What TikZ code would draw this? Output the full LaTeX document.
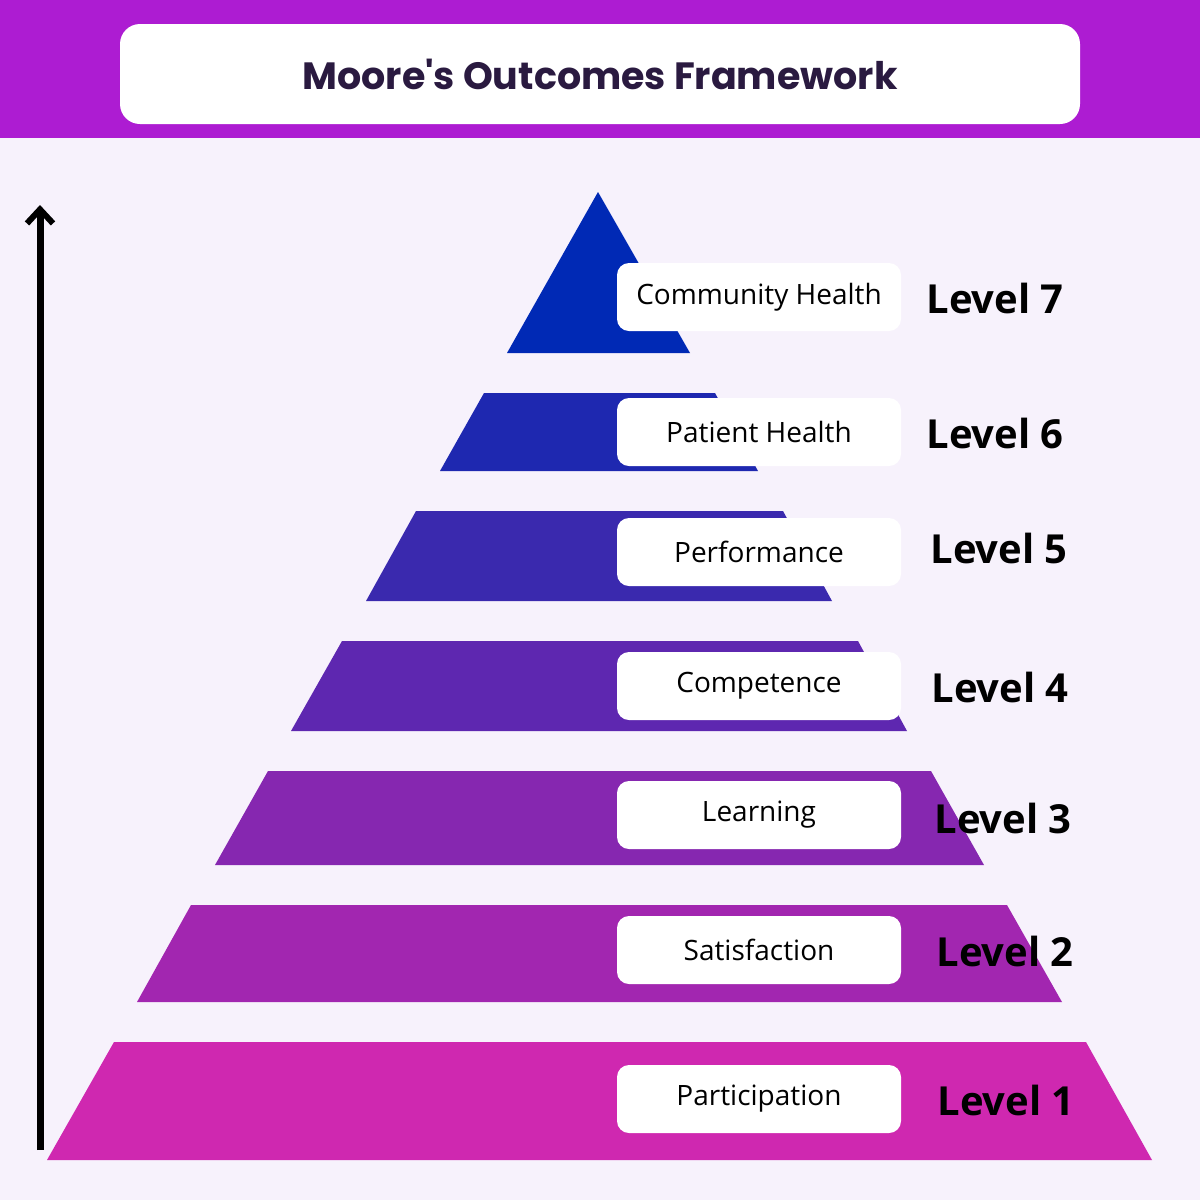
\documentclass[tikz,border=0pt]{standalone}
\usepackage{fontspec}
\setmainfont{Open Sans}
\newfontfamily\titlefont{Poppins}
\usetikzlibrary{arrows.meta}
\definecolor{hdr}{HTML}{AD1CD2}
\definecolor{bg}{HTML}{F7F2FC}
\definecolor{ttl}{HTML}{2A1A40}
\definecolor{cA}{HTML}{0029B5}
\definecolor{cB}{HTML}{1E28B0}
\definecolor{cC}{HTML}{3A29AE}
\definecolor{cD}{HTML}{5E27B0}
\definecolor{cE}{HTML}{8627B0}
\definecolor{cF}{HTML}{A226B0}
\definecolor{cG}{HTML}{CF28B0}
\tikzset{
 lab/.style={fill=white,rounded corners=6pt,minimum width=142pt,minimum height=34pt,inner sep=0pt,font=\fontsize{14}{16}\selectfont,text=black},
 lvl/.style={anchor=west,inner sep=0pt,font=\fontsize{20}{22}\selectfont\bfseries,text=black}
}
\begin{document}
\begin{tikzpicture}[x=0.5pt,y=-0.5pt]
\useasboundingbox (0,0) rectangle (1200,1200);
\fill[bg] (0,0) rectangle (1200,1200);
\fill[hdr] (0,0) rectangle (1200,138);
\node[fill=white,rounded corners=10pt,minimum width=480pt,minimum height=50pt,inner sep=0pt,text=ttl,font=\titlefont\fontsize{19}{22}\selectfont\bfseries] (title) at (600,74) {Moore's Outcomes Framework};
\fill[cA] (598,192) -- (690,353) -- (507,353) -- cycle;
\fill[cB] (484,393) -- (715,393) -- (758,471) -- (440,471) -- cycle;
\fill[cC] (416,511) -- (783,511) -- (832,601) -- (366,601) -- cycle;
\fill[cD] (342,641) -- (858,641) -- (907,731) -- (291,731) -- cycle;
\fill[cE] (268,771) -- (931,771) -- (984,865) -- (215,865) -- cycle;
\fill[cF] (191,905) -- (1007,905) -- (1062,1002) -- (137,1002) -- cycle;
\fill[cG] (114,1042) -- (1086,1042) -- (1152,1160) -- (47,1160) -- cycle;
\node[lab] (b7) at (759,297) {Community Health};
\node[lab] (b6) at (759,432) {Patient Health};
\node[lab] (b5) at (759,552) {Performance};
\node[lab] (b4) at (759,686) {Competence};
\node[lab] (b3) at (759,815) {Learning};
\node[lab] (b2) at (759,950) {Satisfaction};
\node[lab] (b1) at (759,1099) {Participation};
\node[lvl] (l7) at (926,298) {Level 7};
\node[lvl] (l6) at (926,433) {Level 6};
\node[lvl] (l5) at (930,548) {Level 5};
\node[lvl] (l4) at (931,687) {Level 4};
\node[lvl] (l3) at (934,818) {Level 3};
\node[lvl] (l2) at (936,951) {Level 2};
\node[lvl] (l1) at (937,1100) {Level 1};
\coordinate (a0) at (40,1150);
\coordinate (a1) at (40,205);
\draw[line width=3.5pt,-{Straight Barb[length=7pt,width=13pt,line width=3pt]}] (a0) -- (a1);
\end{tikzpicture}
\end{document}
